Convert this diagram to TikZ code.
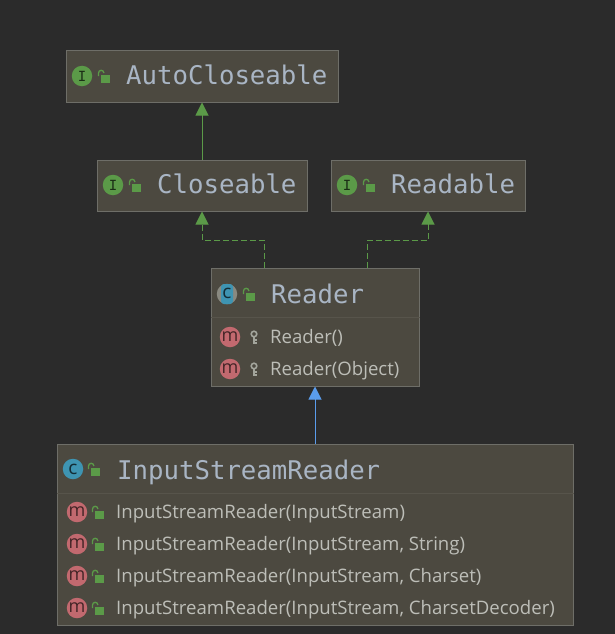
\documentclass[tikz,border=0pt]{standalone}
\usepackage{fontspec}
\setmainfont{Open Sans}
\setmonofont{DejaVu Sans Mono}
\usetikzlibrary{arrows.meta}

\definecolor{canvas}{HTML}{2B2B2B}
\definecolor{boxfill}{HTML}{4C4940}
\definecolor{boxline}{HTML}{6E6E68}
\definecolor{rowline}{HTML}{57544B}
\definecolor{headtext}{HTML}{A9B5C4}
\definecolor{rowtext}{HTML}{BDBEB8}
\definecolor{leaf}{HTML}{5B9A48}
\definecolor{sky}{HTML}{5A9CEC}
\definecolor{teal}{HTML}{3E94B2}
\definecolor{rose}{HTML}{C2696F}
\definecolor{keygrey}{HTML}{A3A59C}

\tikzset{
  pics/lockicon/.style={code={
    \fill[leaf] (-3,-2.5) rectangle (5.5,5.5);
    \draw[leaf,line width=1.3pt] (-5.5,-1) -- (-5.5,-4) arc[start angle=180,end angle=360,radius=2.7];
  }},
  pics/keyicon/.style={code={
    \draw[keygrey,line width=1.6pt] (0,-3) circle (2.8);
    \draw[keygrey,line width=1.8pt] (0,-1) -- (0,6.5) (0,3) -- (3,3) (0,6) -- (3,6);
  }},
}

\begin{document}
\begin{tikzpicture}[
  x=1pt,y=-1pt,
  umlbox/.style={draw=boxline,fill=boxfill,line width=1pt,inner sep=0pt},
  divider/.style={rowline,line width=1pt},
  headlabel/.style={anchor=base west,inner sep=0pt,text=headtext,font=\ttfamily\fontsize{25.7}{30}\selectfont},
  rowlabel/.style={anchor=base west,inner sep=0pt,text=rowtext,font=\fontsize{18.6}{22}\selectfont},
  badge/.style={circle,minimum size=20.5pt,inner sep=0pt,font=\ttfamily\fontsize{14}{15}\selectfont},
  ifacebadge/.style={badge,fill=leaf,text=black!70!leaf},
  classbadge/.style={badge,fill=teal,text=black!70!teal,font=\fontsize{19}{19}\selectfont},
  methodbadge/.style={badge,fill=rose,text=black!65!rose,font=\fontsize{18}{18}\selectfont},
  extends/.style={leaf,line width=1pt,-{Triangle[width=13pt,length=13pt]}},
  implements/.style={leaf,line width=1pt,dash pattern=on 6pt off 3pt,-{Triangle[width=13pt,length=13pt]}},
  inherits/.style={sky,line width=1pt,-{Triangle[width=13pt,length=13pt]}},
]
  \fill[canvas] (0,0) rectangle (615,634);
  \useasboundingbox (0,0) rectangle (615,634);

  % boxes
  \node[umlbox,minimum width=272pt,minimum height=51pt] (autocloseable) at (202,76.5) {};
  \node[umlbox,minimum width=210pt,minimum height=51pt] (closeable) at (202,185.5) {};
  \node[umlbox,minimum width=194pt,minimum height=51pt] (readable) at (428,185.5) {};
  \node[umlbox,minimum width=208pt,minimum height=118pt] (reader) at (315,327) {};
  \node[umlbox,minimum width=516pt,minimum height=181pt] (isr) at (315,534.5) {};

  \draw[divider] ([yshift=-50pt]reader.north west) -- ([yshift=-50pt]reader.north east);
  \draw[divider] ([yshift=-50pt]isr.north west) -- ([yshift=-50pt]isr.north east);

  % titles
  \node[ifacebadge] (autoicon) at (82,76) {I};
  \pic at (104,77) {lockicon};
  \node[headlabel] (autotitle) at (126,84.5) {AutoCloseable};

  \node[ifacebadge] (closeicon) at (113,185) {I};
  \pic at (135,186) {lockicon};
  \node[headlabel] (closetitle) at (157,193.5) {Closeable};

  \node[ifacebadge] (readicon) at (347,185) {I};
  \pic at (369,186) {lockicon};
  \node[headlabel] (readtitle) at (391,193.5) {Readable};

  \node[badge,fill=keygrey!70!boxfill] (readerring) at (227,294) {};
  \fill[teal,rounded corners=3pt] (221,284) rectangle (233,304);
  \node[inner sep=0pt,text=black!70!teal,font=\fontsize{19}{19}\selectfont] (readericon) at (227,293) {c};
  \pic at (249,295) {lockicon};
  \node[headlabel] (readertitle) at (271,303) {Reader};

  \node[classbadge] (isricon) at (73,469) {c};
  \pic at (94,470) {lockicon};
  \node[headlabel] (isrtitle) at (117,479) {InputStreamReader};

  % members
  \node[methodbadge] (readerm1) at (230,337) {m};
  \pic at (254,337) {keyicon};
  \node[rowlabel] (readerrow1) at (270,343) {Reader()};
  \node[methodbadge] (readerm2) at (230,369) {m};
  \pic at (254,369) {keyicon};
  \node[rowlabel] (readerrow2) at (270,375) {Reader(Object)};

  \node[methodbadge] (isrm1) at (77,512) {m};
  \pic at (98,513) {lockicon};
  \node[rowlabel] (isrrow1) at (116,518) {InputStreamReader(InputStream)};
  \node[methodbadge] (isrm2) at (77,544) {m};
  \pic at (98,545) {lockicon};
  \node[rowlabel] (isrrow2) at (116,550) {InputStreamReader(InputStream, String)};
  \node[methodbadge] (isrm3) at (77,576) {m};
  \pic at (98,577) {lockicon};
  \node[rowlabel] (isrrow3) at (116,582) {InputStreamReader(InputStream, Charset)};
  \node[methodbadge] (isrm4) at (77,608) {m};
  \pic at (98,609) {lockicon};
  \node[rowlabel] (isrrow4) at (116,614) {InputStreamReader(InputStream, CharsetDecoder)};

  % connectors
  \coordinate (bendleft) at (264,240);
  \coordinate (bendright) at (367,240);
  \draw[extends] (closeable) -- (autocloseable);
  \draw[implements] ([xshift=-51pt]reader.north) -- (bendleft) -| (closeable.south);
  \draw[implements] ([xshift=52pt]reader.north) -- (bendright) -| (readable.south);
  \draw[inherits] (isr) -- (reader);
\end{tikzpicture}
\end{document}
